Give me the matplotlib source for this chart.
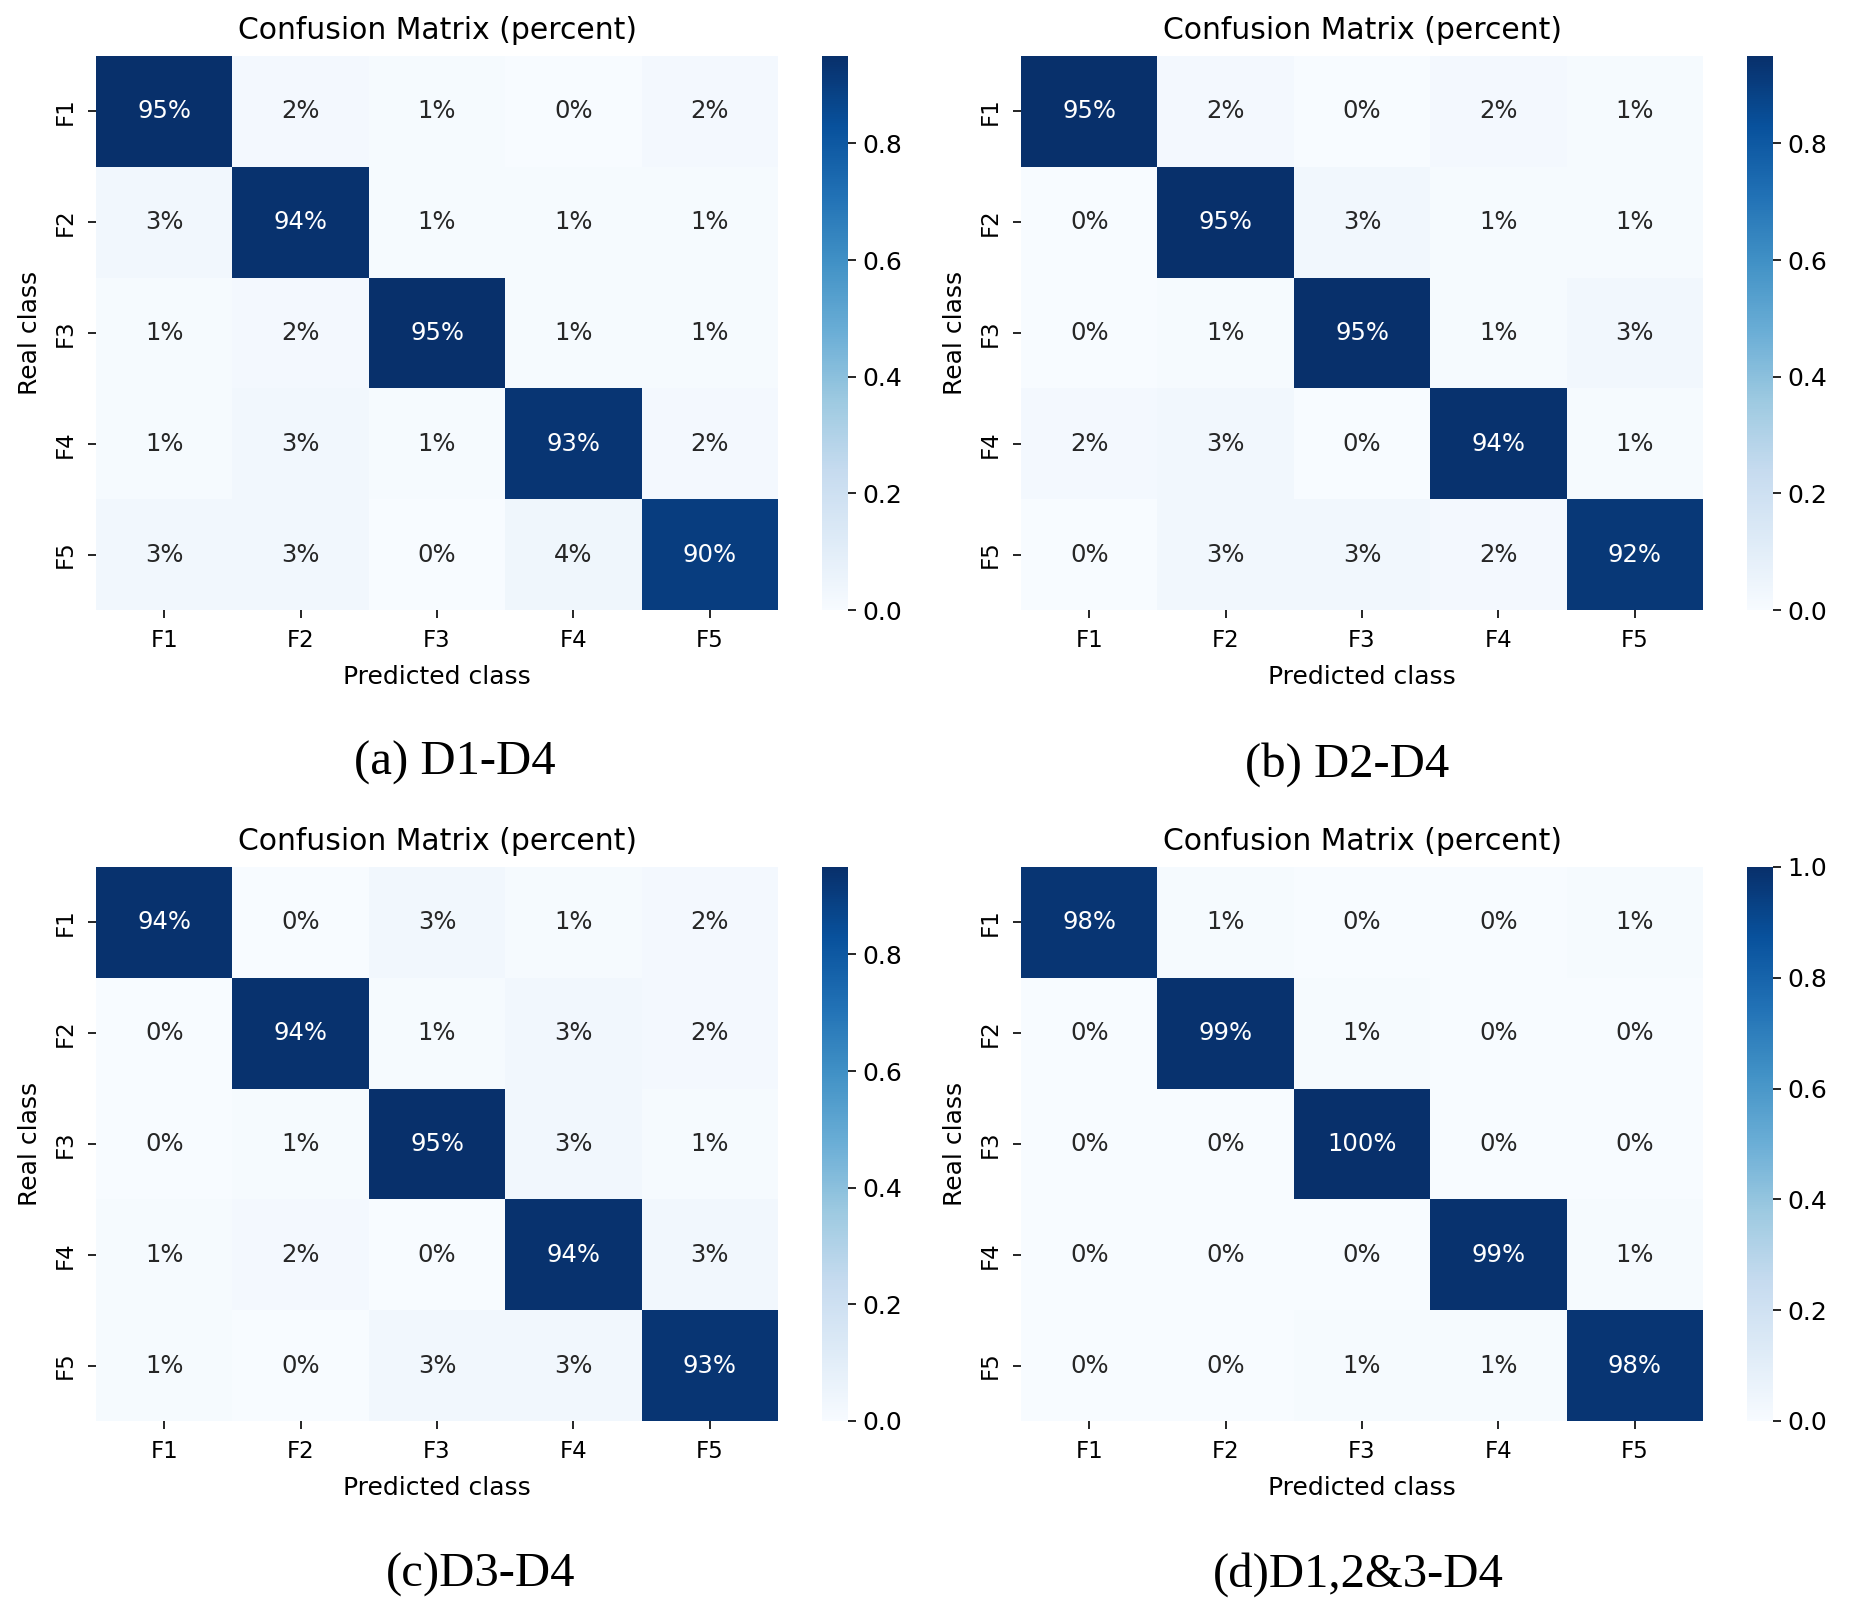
import numpy as np
import matplotlib
matplotlib.use("Agg")
import matplotlib.pyplot as plt
import seaborn as sns

labels = ["F1", "F2", "F3", "F4", "F5"]

# confusion matrices in percent (rows = real class, cols = predicted class)
cm_a = [[95, 2, 1, 0, 2],
        [3, 94, 1, 1, 1],
        [1, 2, 95, 1, 1],
        [1, 3, 1, 93, 2],
        [3, 3, 0, 4, 90]]
cm_b = [[95, 2, 0, 2, 1],
        [0, 95, 3, 1, 1],
        [0, 1, 95, 1, 3],
        [2, 3, 0, 94, 1],
        [0, 3, 3, 2, 92]]
cm_c = [[94, 0, 3, 1, 2],
        [0, 94, 1, 3, 2],
        [0, 1, 95, 3, 1],
        [1, 2, 0, 94, 3],
        [1, 0, 3, 3, 93]]
cm_d = [[98, 1, 0, 0, 1],
        [0, 99, 1, 0, 0],
        [0, 0, 100, 0, 0],
        [0, 0, 0, 99, 1],
        [0, 0, 1, 1, 98]]

captions = ["(a) D1-D4", "(b) D2-D4", "(c)D3-D4", "(d)D1,2&3-D4"]
matrices = [cm_a, cm_b, cm_c, cm_d]

W, H = 1851, 1598
fig = plt.figure(figsize=(W / 100, H / 100), dpi=100)

# pixel boxes: (heatmap left, heatmap top, colorbar left, caption x, caption y)
boxes = [(96, 56, 822, 455, 763),
         (1021, 56, 1747, 1347, 765),
         (96, 867, 822, 481, 1575),
         (1021, 867, 1747, 1358, 1575)]
hm_w, hm_h, cb_w = 682, 554, 26

for cm, cap, (x0, y0, cbx, capx, capy) in zip(matrices, captions, boxes):
    ax = fig.add_axes([x0 / W, 1 - (y0 + hm_h) / H, hm_w / W, hm_h / H])
    cax = fig.add_axes([cbx / W, 1 - (y0 + hm_h) / H, cb_w / W, hm_h / H])
    data = np.array(cm) / 100.0
    sns.heatmap(data, annot=True, fmt=".0%", cmap="Blues", ax=ax, cbar_ax=cax,
                xticklabels=labels, yticklabels=labels,
                annot_kws={"size": 17.5})
    ax.set_title("Confusion Matrix (percent)", fontsize=21.5, pad=12)
    ax.set_xlabel("Predicted class", fontsize=18, labelpad=9)
    ax.set_ylabel("Real class", fontsize=18, labelpad=8)
    ax.tick_params(labelsize=16.5, length=6, width=1.2, pad=8)
    plt.setp(ax.get_yticklabels(), rotation=90, va="center")
    plt.setp(ax.get_xticklabels(), rotation=0)
    cax.tick_params(labelsize=18, length=6, width=1.2, pad=4)
    fig.text(capx / W, 1 - capy / H, cap, ha="center", va="center",
             fontsize=35, family="Liberation Serif")

fig.savefig("out.png", dpi=100, facecolor="white")
